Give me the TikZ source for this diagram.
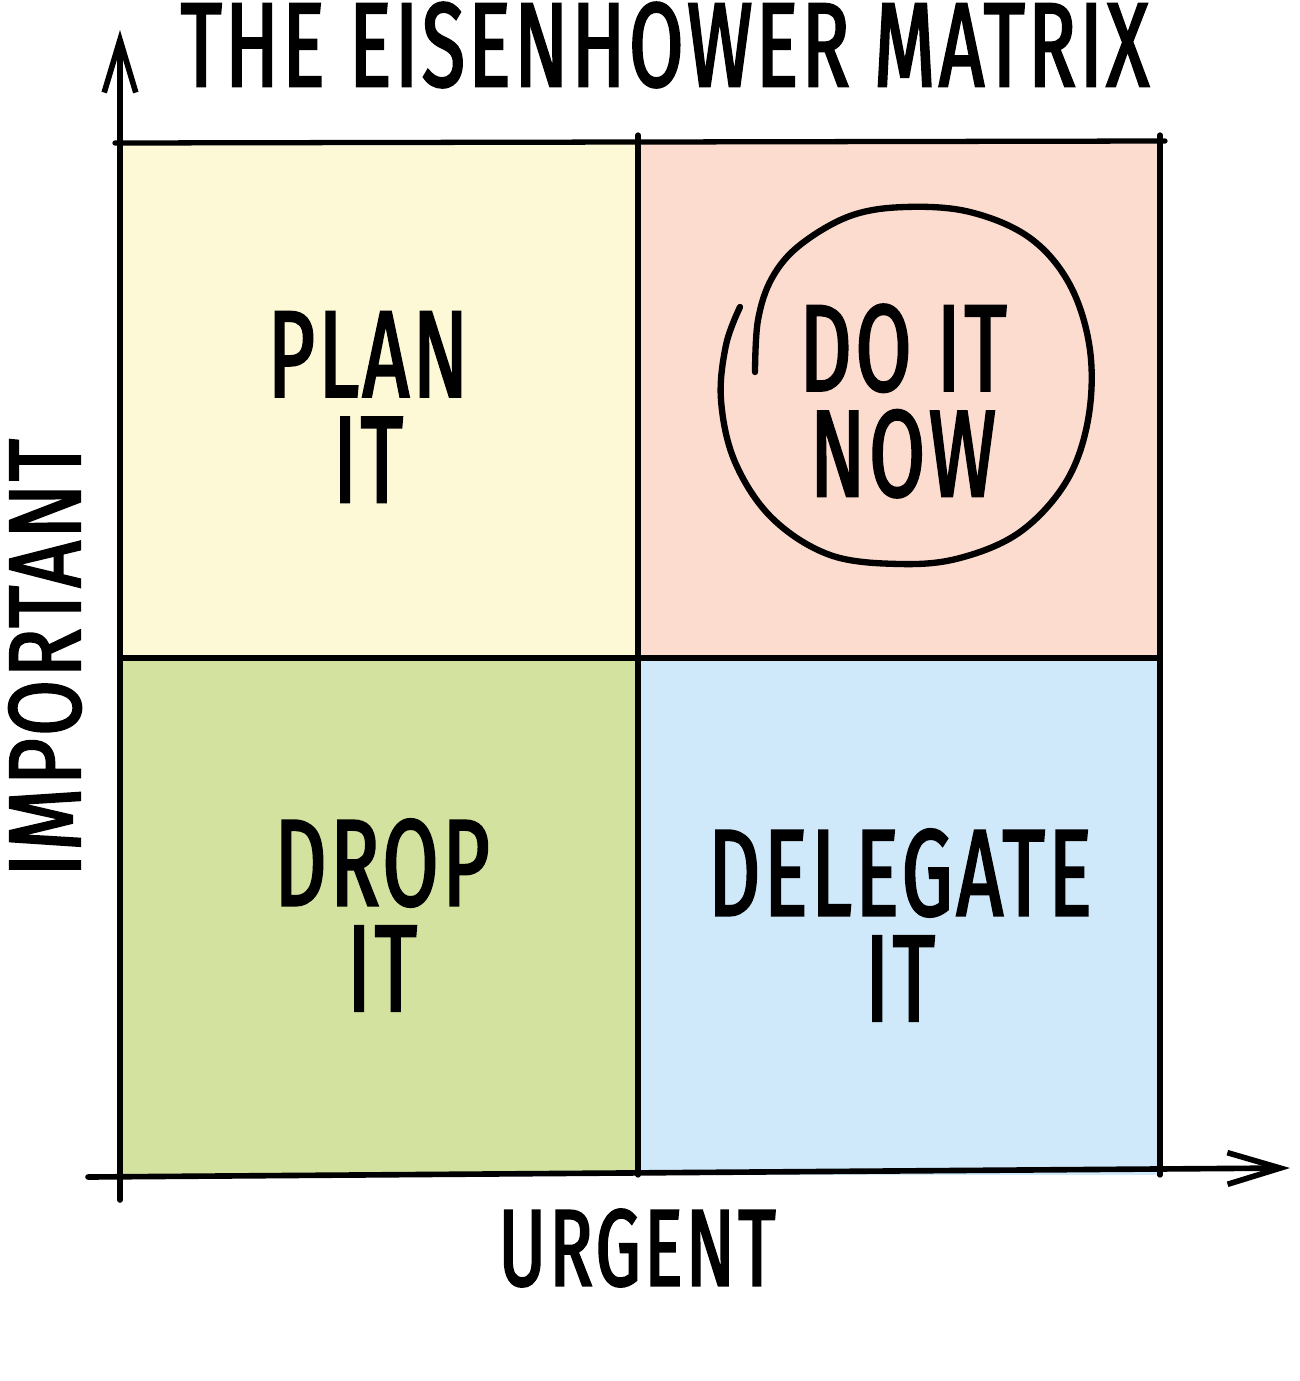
\documentclass[tikz,border=0pt]{standalone}
\usepackage{fontspec}
\usetikzlibrary{arrows.meta}
\newfontfamily\handfont[FakeStretch=0.66, LetterSpace=3, FakeBold=2]{Fira Sans}
\newfontfamily\handwide[FakeStretch=0.8, LetterSpace=2, FakeBold=2]{Fira Sans}
\definecolor{planyellow}{HTML}{FDF8D6}
\definecolor{dosalmon}{HTML}{FCDCCF}
\definecolor{dropgreen}{HTML}{D3E29F}
\definecolor{delblue}{HTML}{CFE9FA}

\begin{document}
\begin{tikzpicture}[x=0.01cm,y=-0.01cm,
  grid/.style={line width=1.5pt, line cap=round},
  axis/.style={line width=1.6pt, line cap=round, -{Straight Barb[length=15pt,width=9pt,line width=1.6pt]}},
  quad/.style={font=\handfont\fontsize{35}{30}\selectfont, align=center, inner sep=0pt},
  heading/.style={font=\handfont\fontsize{34}{36}\selectfont, inner sep=0pt}]
\useasboundingbox (0,0) rectangle (1300,1381);
% corners of the matrix
\coordinate (tl) at (123,143);
\coordinate (tm) at (638,143);
\coordinate (tr) at (1160,143);
\coordinate (ml) at (123,658);
\coordinate (mm) at (638,658);
\coordinate (mr) at (1160,658);
\coordinate (bl) at (123,1175);
\coordinate (bm) at (638,1175);
\coordinate (br) at (1160,1175);
% quadrant fills
\fill[planyellow] (tl) rectangle (mm);
\fill[dosalmon] (tm) rectangle (mr);
\fill[dropgreen] (ml) rectangle (bm);
\fill[delblue] (mm) rectangle (br);
% grid
\coordinate (topstart) at (115,143);
\coordinate (topend) at (1165,141);
\draw[grid] (topstart) -- (topend);
\draw[grid] (ml) -- (mr);
\coordinate (midtop) at (638,135);
\coordinate (rtop) at (1160,135);
\draw[grid] (midtop) -- (bm);
\draw[grid] (rtop) -- (br);
% axes
\coordinate (yfoot) at (120,1200);
\coordinate (ytip) at (120,30);
\coordinate (xfoot) at (88,1177);
\coordinate (xtip) at (1290,1168);
\draw[axis] (yfoot) -- (ytip);
\draw[axis] (xfoot) -- (xtip);
% labels
\node[heading] (title) at (665,45) {THE EISENHOWER MATRIX};
\node[heading, font=\handfont\fontsize{31}{33}\selectfont] (urgent) at (637,1248) {URGENT};
\node[heading, font=\handwide\fontsize{29}{31}\selectfont, rotate=90] (important) at (45,658) {IMPORTANT};
\node[quad] (plan) at (368,407) {PLAN\\IT};
\node[quad] (donow) at (903,401) {DO IT\\NOW};
\node[quad] (drop) at (382,915) {DROP\\IT};
\node[quad] (delegate) at (900,925) {DELEGATE\\IT};
% hand drawn ring around do it now
\draw[line width=1.8pt, line cap=round] plot[smooth, tension=0.6] coordinates {
  (755,372) (758,320) (772,278) (800,245) (850,216) (905,207) (970,212) (1030,238)
  (1070,285) (1090,350) (1088,420) (1066,482) (1020,532) (960,558) (900,564)
  (830,555) (772,518) (735,462) (721,400) (726,345) (740,307)};
\end{tikzpicture}
\end{document}
